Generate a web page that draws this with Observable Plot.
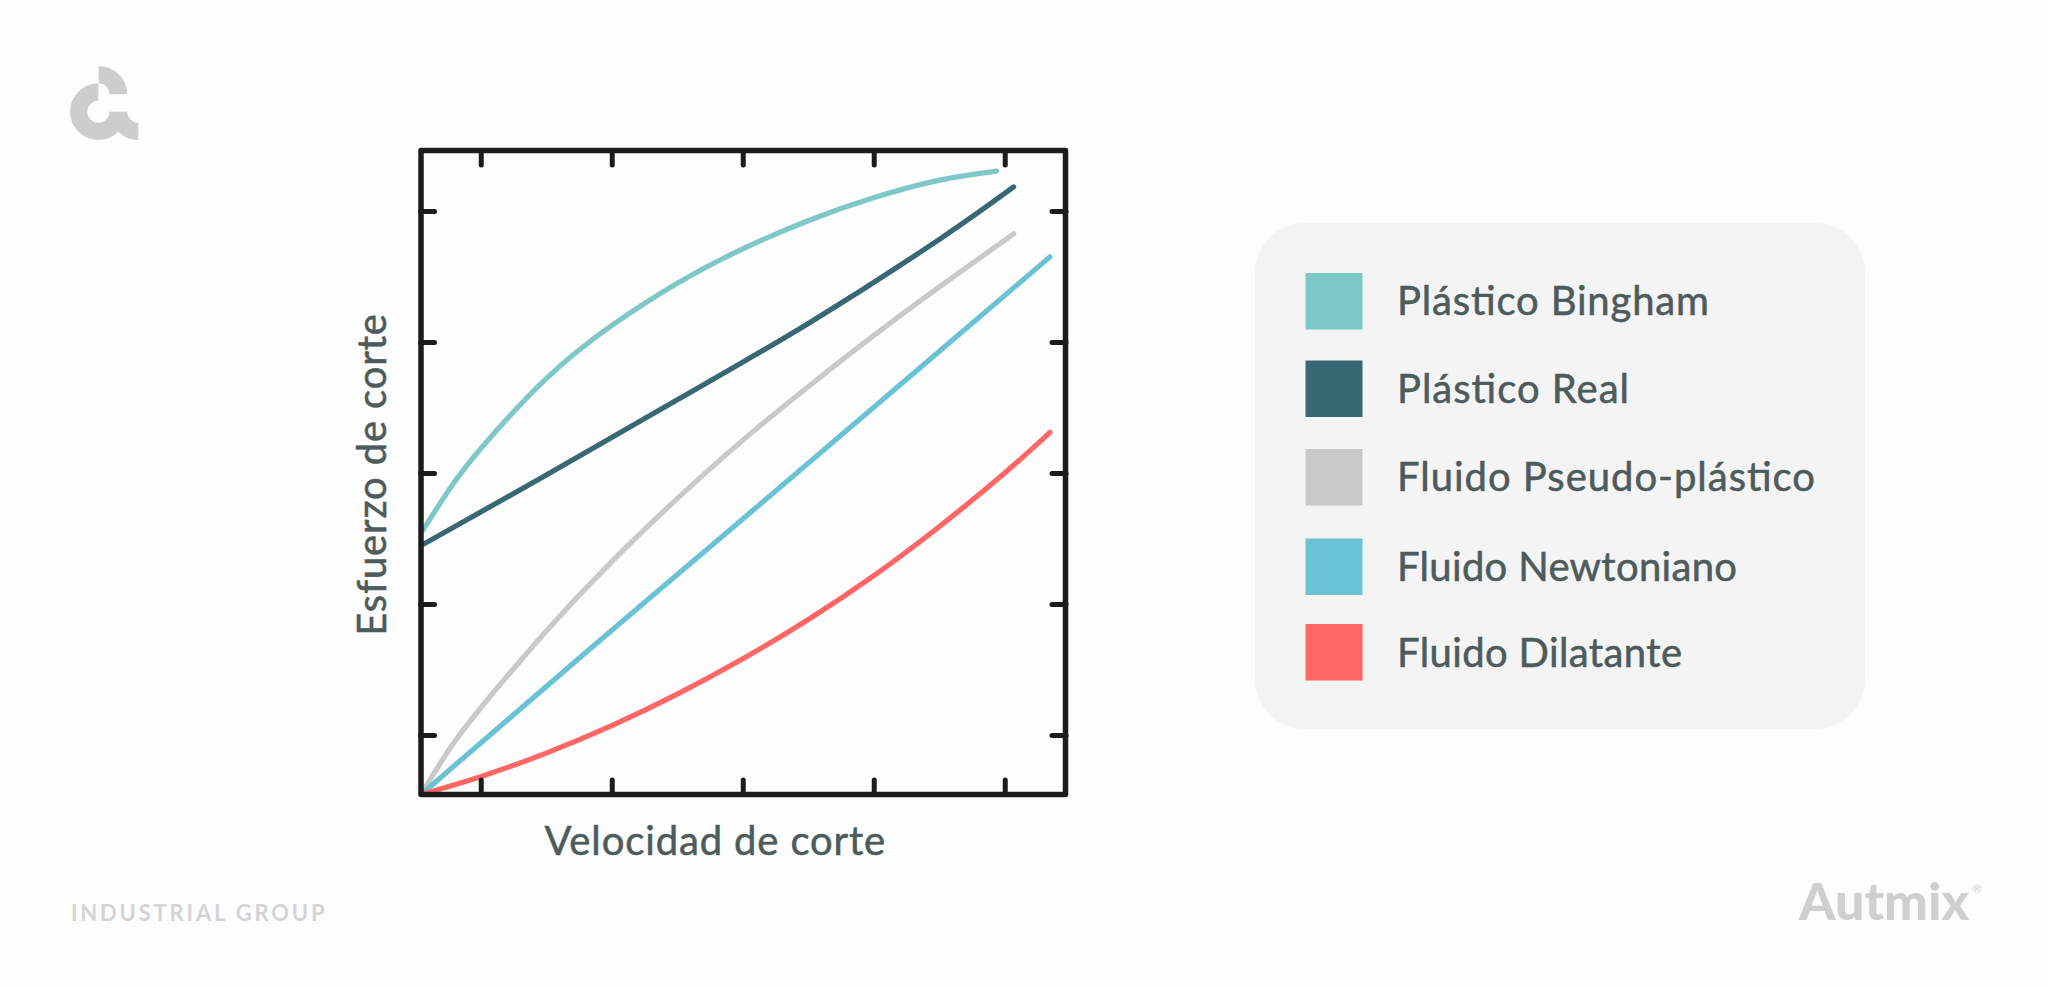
<!DOCTYPE html>
<html lang="es">
<head>
<meta charset="utf-8">
<script src="https://cdn.jsdelivr.net/npm/d3@7"></script>
<script src="https://cdn.jsdelivr.net/npm/@observablehq/plot@0.6"></script>
<style>
html,body{margin:0;padding:0;background:#fdfdfd;width:2048px;height:987px;overflow:hidden}
#chart,#overlay{position:absolute;left:0;top:0}
#chart svg{background:transparent;display:block}
.lbl{font-family:Lato,sans-serif;font-weight:400;fill:#4d5b5c;stroke:#4d5b5c;stroke-width:.55px}
#chart text{letter-spacing:.87px;stroke:#4d5b5c;stroke-width:.55px}
</style>
</head>
<body>
<div id="chart"></div>
<svg id="overlay" width="2048" height="987" viewBox="0 0 2048 987" xmlns="http://www.w3.org/2000/svg"></svg>
<script>
const seriesNames = ["Plástico Bingham","Plástico Real","Fluido Pseudo-plástico","Fluido Newtoniano","Fluido Dilatante"];
const seriesColors = ["#7fc8c8","#386873","#c9c9c9","#69c2d6","#ff6666"];

const binghamX = [0.54,0.75,1,1.5,2,2.5,3,3.5,4,4.5,4.934];
const binghamY = [2.545,2.87,3.195,3.728,4.133,4.455,4.717,4.932,5.107,5.24,5.309];
const realX = [0.54,1.5,2.5,3.5,4.5,5.064];
const realY = [2.45,2.99,3.565,4.148,4.79,5.188];
const pseudoX = [0.54,0.75,1,1.5,2,2.5,3,3.5,4,4.5,5.064];
const pseudoY = [0.55,0.886,1.216,1.802,2.332,2.812,3.257,3.667,4.057,4.427,4.83];
const newtonX = [0.54,1.758,3.01,4.2,5.341];
const newtonY = [0.55,1.6,2.665,3.68,4.654];
const dilatantX = [0.54,1,1.5,2,2.5,3,3.5,4,4.5,5,5.341];
const dilatantY = [0.55,0.688,0.868,1.078,1.318,1.588,1.888,2.223,2.598,3.008,3.315];

const tickValues = [1,2,3,4,5];
const xTitle = "Velocidad de corte";
const yTitle = "Esfuerzo de corte";
const xDomain = [0.54,5.46];
const yDomain = [0.55,5.466];

const allX = [binghamX,realX,pseudoX,newtonX,dilatantX];
const allY = [binghamY,realY,pseudoY,newtonY,dilatantY];
const ink = "#1c1c1c";
const titleFont = {fontSize:40,fontFamily:"Lato,sans-serif",fontWeight:400,fill:"#4d5b5c"};

const lines = allX.map((xs,i)=>Plot.line(xs.map((x,j)=>({x,y:allY[i][j]})),{
  x:"x",y:"y",stroke:seriesColors[i],strokeWidth:5.2,curve:"natural",strokeLinecap:"round",clip:"frame"
}));
const tickAxis = (fn,anchor)=>fn({anchor,ticks:tickValues,tickSize:-14,tickFormat:()=>"",label:null,stroke:ink,strokeWidth:5,strokeOpacity:1,strokeLinecap:"round"});

const plot = Plot.plot({
  width:2048,height:987,
  marginLeft:420.5,marginRight:983,marginTop:150,marginBottom:193,
  x:{domain:xDomain},y:{domain:yDomain},
  style:{background:"transparent"},
  marks:[
    ...lines,
    tickAxis(Plot.axisX,"bottom"),
    tickAxis(Plot.axisX,"top"),
    tickAxis(Plot.axisY,"left"),
    tickAxis(Plot.axisY,"right"),
    Plot.frame({stroke:ink,strokeWidth:5.5,strokeLinejoin:"round"}),
    Plot.text([xTitle],{text:d=>d,frameAnchor:"bottom",dx:-28,dy:60,...titleFont}),
    Plot.text([yTitle],{text:d=>d,frameAnchor:"left",textAnchor:"middle",rotate:-90,dx:-48,dy:2,...titleFont})
  ]
});
document.getElementById("chart").append(plot);

const o = d3.select("#overlay");
// legend panel
o.append("rect").attr("x",1255).attr("y",223).attr("width",610).attr("height",506).attr("rx",50).attr("fill","#f4f4f4");
const swatchTops = [273,360.5,449,538.5,624];
const baselines = [315,403,491,581,667];
const labelWidths = [312,232,418,340,285];
seriesNames.forEach((name,i)=>{
  o.append("rect").attr("x",1305.5).attr("y",swatchTops[i]).attr("width",57).attr("height",56.5).attr("fill",seriesColors[i]);
  o.append("text").attr("class","lbl").attr("x",1397).attr("y",baselines[i]).attr("font-size",40)
    .attr("textLength",labelWidths[i]).attr("lengthAdjust","spacing").text(name);
});
// brand mark
const g = o.append("g").attr("transform","translate(40,40) scale(0.3333)").attr("fill","#cdcdcd");
g.append("path").attr("d","M175 130 A85 85 0 0 0 175 300 Q210 300 235 275 Q260 300 295 300 L295 248 A33 33 0 0 1 262 215 L208 215 A33 33 0 0 1 175 248 A33 33 0 0 1 175 182 Z");
g.append("path").attr("d","M176 78 A86 86 0 0 1 262 163 L208 163 A32 32 0 0 0 176 130 Z");
// footer
o.append("text").attr("x",71).attr("y",920.5).attr("font-family","Lato,sans-serif").attr("font-weight",700).attr("font-size",22).attr("letter-spacing",2.8).attr("fill","#d4d4d4").text("INDUSTRIAL GROUP");
o.append("text").attr("x",1799).attr("y",920).attr("font-family","Lato,sans-serif").attr("font-weight",900).attr("font-size",52).attr("fill","#cfcfcf").text("Autmix");
o.append("text").attr("x",1972).attr("y",893).attr("font-family","Lato,sans-serif").attr("font-size",12).attr("fill","#cfcfcf").text("®");
</script>
</body>
</html>
